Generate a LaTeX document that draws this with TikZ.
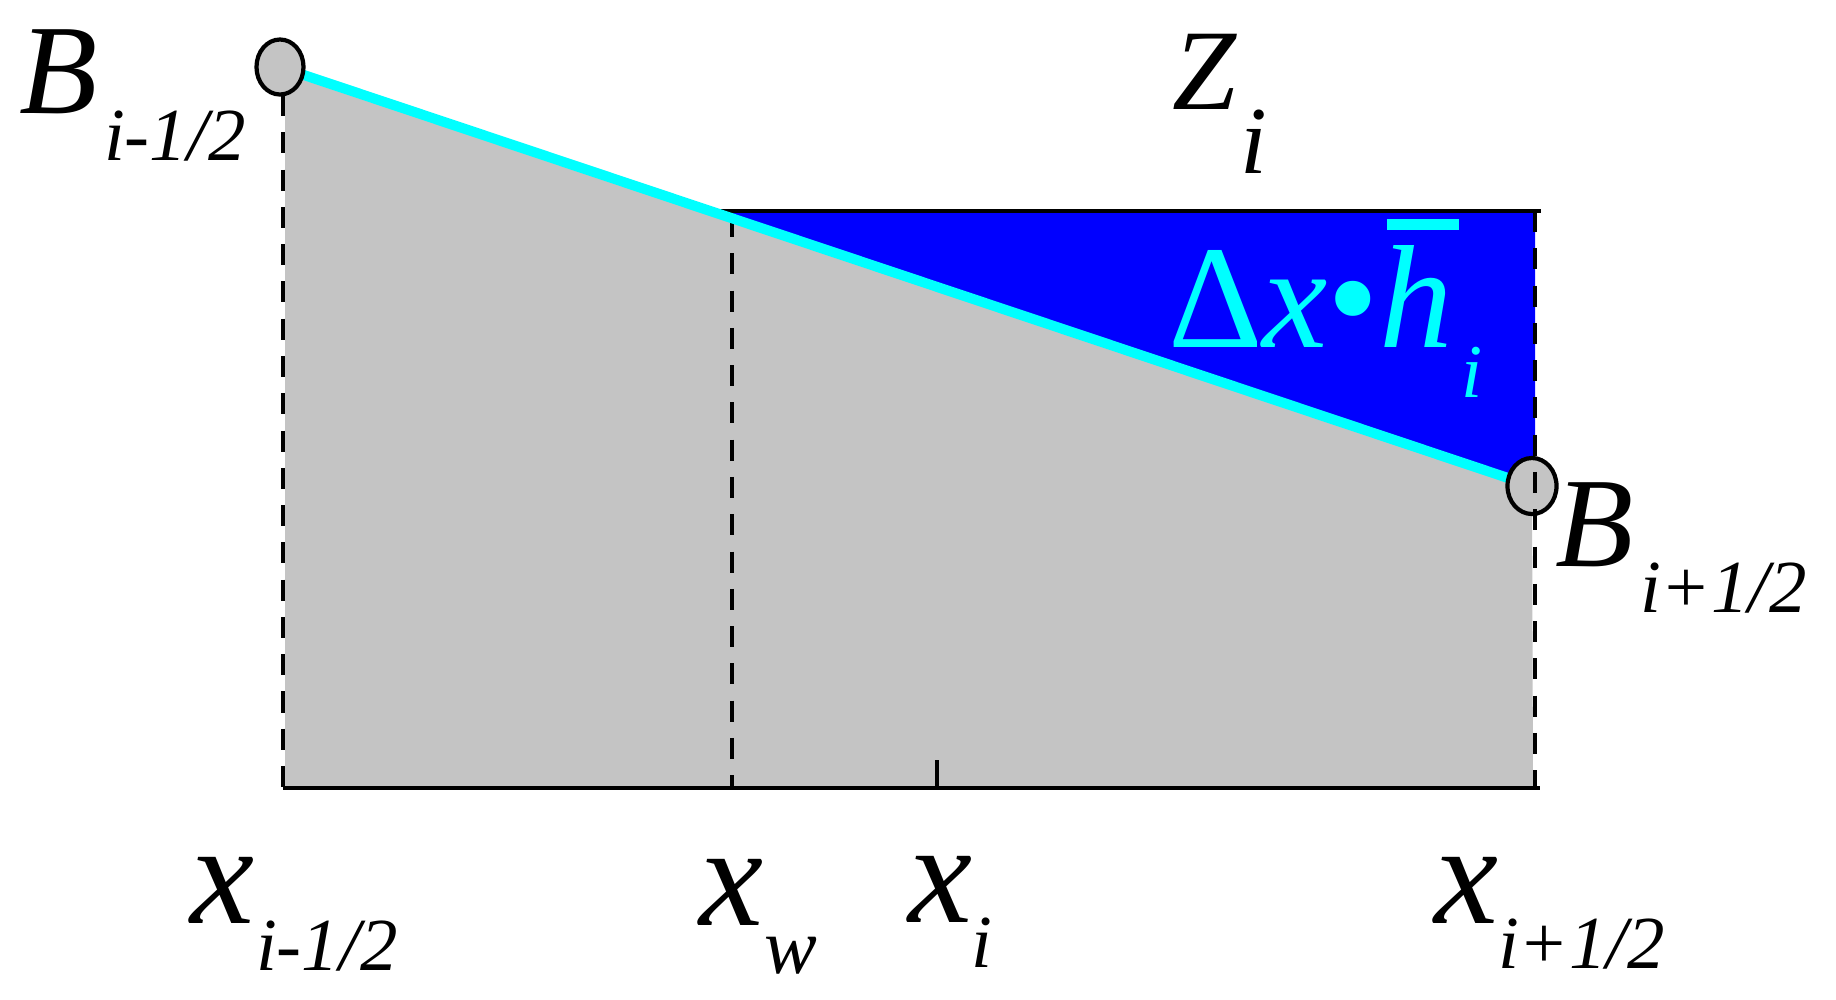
\documentclass[tikz,border=0pt]{standalone}
\usepackage{fontspec}
\setmainfont{Liberation Serif}
\newfontfamily\tnr{Liberation Serif}
\definecolor{fillgray}{RGB}{196,196,196}
\definecolor{pureblue}{RGB}{0,0,255}
\definecolor{purecyan}{RGB}{0,255,255}
\newcommand{\setfsz}[1]{\fontsize{#1}{#1}\selectfont}
% \lab{main size}{main text}{sub x offset}{sub size}{sub drop}{sub text}
\newcommand{\lab}[6]{{\setfsz{#1}\makebox[#3][l]{#2}}\raisebox{-#5}{\setfsz{#4}#6}}
\tikzset{
  lbl/.style={inner sep=0pt, outer sep=0pt, anchor=base west, font=\tnr},
  dashedguide/.style={draw=black, line width=1.2pt, dash pattern=on 6pt off 4.6pt},
  solidline/.style={draw=black, line width=1.2pt},
  nodept/.style={draw=black, fill=fillgray, line width=1.2pt},
}
\begin{document}
\begin{tikzpicture}[x=0.01cm, y=-0.01cm]
\useasboundingbox (0,0) rectangle (1836,999);
% key points
\coordinate (L) at (280,67);
\coordinate (R) at (1532,486);
\coordinate (W) at (709,211);
\coordinate (TR) at (1535,211);
\coordinate (BL) at (283,788);
\coordinate (BR) at (1540,788);
% fills
\fill[fillgray] (285,67) -- (R) -- (1533,788) -- (285,788) -- cycle;
\fill[pureblue] (W) -- (TR) -- (1535,486) -- cycle;
% top line
\draw[solidline] (W) -- (1541,211);
% dashed guides
\draw[dashedguide] (283,95) -- (283,788);
\draw[dashedguide] (732,216) -- (732,788);
% cyan line
\draw[purecyan, line width=2.85pt] (L) -- (R);
% circles
\draw[nodept] (L) ellipse [x radius=0.235cm, y radius=0.275cm];
\draw[nodept] (R) ellipse [x radius=0.245cm, y radius=0.28cm];
\draw[dashedguide] (1535,211) -- (1535,788);
% axis and tick
\draw[solidline] (BL) -- (BR);
\draw[solidline] (937,760) -- (937,788);
% labels
\node[lbl] (Bl) at (20,113) {\lab{36.4pt}{\textit{B}}{0.84cm}{21.3pt}{0.47cm}{\textit{i-1/2}}};
\node[lbl] (Z) at (1172,109) {\lab{32.7pt}{\textit{Z}}{0.68cm}{27.3pt}{0.64cm}{\textit{i}}};
\node[lbl] (Br) at (1555,566) {\lab{36.4pt}{\textit{B}}{0.85cm}{21.3pt}{0.46cm}{\textit{i+1/2}}};
\node[lbl] (x1) at (190,923) {\lab{41pt}{\textit{x}}{0.66cm}{21.3pt}{0.47cm}{\textit{i-1/2}}};
\node[lbl] (x2) at (699,925) {\lab{41pt}{\textit{x}}{0.65cm}{22.5pt}{0.48cm}{\textit{w}}};
\node[lbl] (x3) at (908,922) {\lab{41pt}{\textit{x}}{0.63cm}{21.3pt}{0.45cm}{\textit{i}}};
\node[lbl] (x4) at (1434,923) {\lab{41pt}{\textit{x}}{0.64cm}{21.3pt}{0.45cm}{\textit{i+1/2}}};
% cyan formula
\node[lbl, text=purecyan] (dx) at (1168,347) {\lab{41.8pt}{Δ\textit{x}•\textit{h}}{2.93cm}{21.6pt}{0.50cm}{\textit{i}}};
\fill[purecyan] (1387,219) rectangle (1459,230);
\end{tikzpicture}
\end{document}
